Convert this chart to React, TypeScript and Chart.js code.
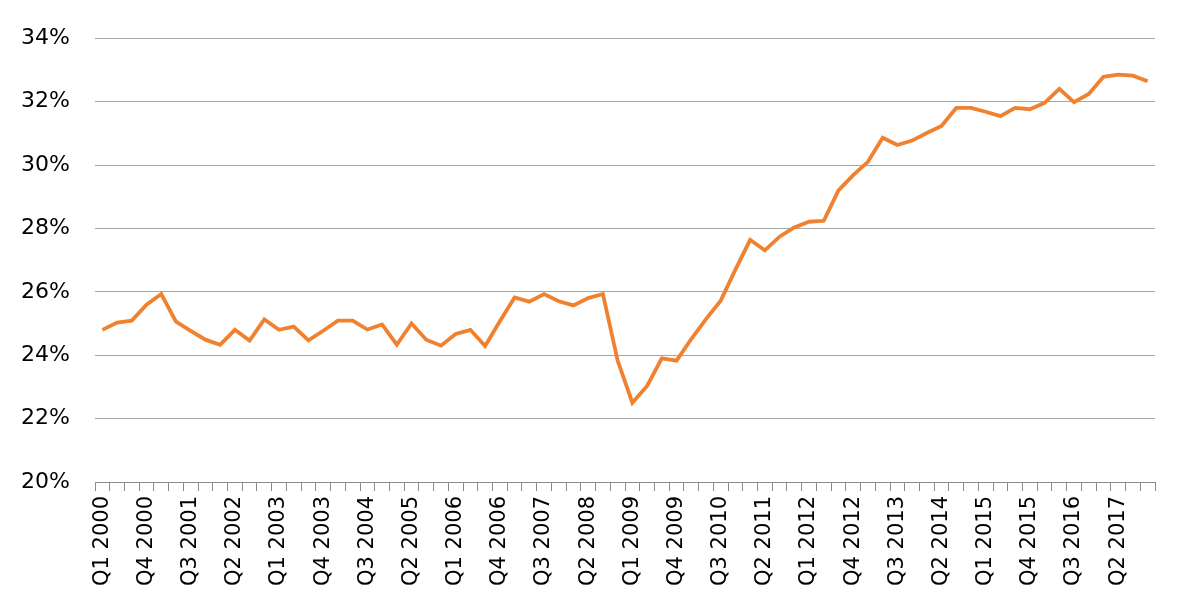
import React, { useEffect, useRef } from 'react';
import { Chart, registerables } from 'chart.js';

Chart.register(...registerables);

// Quarters Q1 2000 .. Q4 2017
const years = Array.from({ length: 18 }, (_, i) => 2000 + i);
const quarters = ['Q1', 'Q2', 'Q3', 'Q4'];
const categories: string[] = years.flatMap((y) => quarters.map((q) => `${q} ${y}`));

// share (%)
const values2000to2008 = [
  24.80, 25.03, 25.09, 25.59, 25.93, 25.06, 24.77, 24.49, 24.33,
  24.80, 24.46, 25.13, 24.80, 24.90, 24.47, 24.77, 25.09, 25.09,
  24.81, 24.97, 24.33, 25.00, 24.49, 24.30, 24.67, 24.80, 24.29,
  25.07, 25.82, 25.69, 25.93, 25.70, 25.57, 25.80, 25.93, 23.83,
];
const values2009to2017 = [
  22.50, 23.03, 23.90, 23.83, 24.51, 25.14, 25.72, 26.70, 27.64,
  27.31, 27.74, 28.03, 28.21, 28.24, 29.20, 29.68, 30.10, 30.86,
  30.63, 30.77, 31.01, 31.23, 31.80, 31.80, 31.68, 31.54, 31.80,
  31.76, 31.96, 32.40, 31.98, 32.24, 32.78, 32.85, 32.82, 32.64,
];
const shareValues = [...values2000to2008, ...values2009to2017];

const yMin = 20;
const yMax = 34;
const yStep = 2;

const LineChart: React.FC = () => {
  const canvasRef = useRef<HTMLCanvasElement>(null);
  const chartRef = useRef<Chart | null>(null);

  useEffect(() => {
    if (!canvasRef.current) return;
    document.body.style.margin = '0';

    if (chartRef.current) {
      chartRef.current.destroy();
    }

    chartRef.current = new Chart(canvasRef.current, {
      type: 'line',
      data: {
        labels: categories,
        datasets: [
          {
            data: shareValues,
            borderColor: '#F0812F',
            borderWidth: 3.8,
            pointRadius: 0,
            tension: 0,
            fill: false,
          },
        ],
      },
      options: {
        animation: false,
        responsive: true,
        maintainAspectRatio: false,
        layout: { padding: { top: 35, right: 35, left: 0, bottom: 0 } },
        plugins: {
          legend: { display: false },
          tooltip: { enabled: false },
        },
        scales: {
          x: {
            type: 'category',
            offset: true,
            afterFit: (scale: any) => {
              scale.height = 132;
            },
            border: { display: true, color: '#8c8c8c', width: 1 },
            grid: {
              offset: true,
              drawOnChartArea: false,
              drawTicks: true,
              tickLength: 9,
              color: '#8c8c8c',
            },
            ticks: {
              autoSkip: false,
              maxRotation: 90,
              minRotation: 90,
              padding: 5,
              color: '#000',
              font: { family: 'DejaVu Sans', size: 21 },
              callback: (_v: any, i: number) => (i % 3 === 0 ? categories[i] : ''),
            },
          },
          y: {
            min: yMin,
            max: yMax,
            afterFit: (scale: any) => {
              scale.width = 95;
            },
            border: { display: false },
            grid: { color: '#a6a6a6', lineWidth: 1, drawTicks: false },
            ticks: {
              stepSize: yStep,
              padding: 25,
              color: '#000',
              font: { family: 'DejaVu Sans', size: 22 },
              callback: (v: any) => `${v}%`,
            },
          },
        },
      },
    });

    return () => {
      if (chartRef.current) {
        chartRef.current.destroy();
        chartRef.current = null;
      }
    };
  }, []);

  return (
    <div style={{ position: 'relative', width: '1190px', height: '614px', background: '#fff' }}>
      <canvas ref={canvasRef} />
    </div>
  );
};

export default function App() {
  return <LineChart />;
}
